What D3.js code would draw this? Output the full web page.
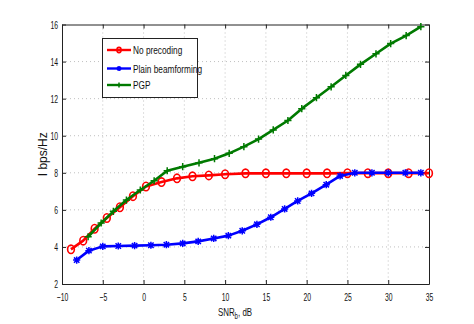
<!DOCTYPE html>
<html>
<head>
<meta charset="utf-8">
<script src="https://cdn.jsdelivr.net/npm/d3@7"></script>
<style>
  html, body { margin: 0; padding: 0; background: #fff; }
  svg { display: block; }
  text { font-family: "Liberation Sans", Arial, sans-serif; fill: #111; }
</style>
</head>
<body>
<svg id="chart" width="474" height="324"></svg>
<script>
// Spectral efficiency vs SNR_b for three precoding schemes
const noPrecX = [-8.9, -7.4, -6.0, -4.5, -2.9, -1.3, 0.3, 2.2, 4.1, 6.0, 8.0, 10.0, 12.5, 15.0, 17.5, 20.0, 22.5, 25.0, 27.5, 30.0, 32.5, 35.0];
const noPrecY = [3.87, 4.34, 4.98, 5.56, 6.14, 6.74, 7.26, 7.50, 7.70, 7.81, 7.86, 7.92, 7.97, 7.97, 7.97, 7.97, 7.97, 7.98, 7.98, 7.98, 7.98, 7.98];

const beamX = [-8.2, -6.7, -5.0, -3.1, -1.1, 0.9, 2.8, 4.8, 6.7, 8.6, 10.4, 12.1, 13.9, 15.6, 17.3, 18.9, 20.6, 22.4, 24.1, 25.9, 28.0, 30.0, 32.1, 34.0];
const beamY = [3.29, 3.80, 4.03, 4.05, 4.07, 4.09, 4.12, 4.19, 4.30, 4.46, 4.61, 4.87, 5.22, 5.60, 6.05, 6.48, 6.89, 7.36, 7.83, 8.00, 8.00, 8.00, 8.00, 8.00];

const pgpX = [-6.8, -5.2, -3.7, -2.1, -0.4, 1.3, 2.9, 4.8, 6.8, 8.7, 10.5, 12.3, 14.1, 15.9, 17.7, 19.4, 21.2, 23.0, 24.8, 26.6, 28.5, 30.3, 32.2, 34.0];
const pgpY = [4.55, 5.29, 5.92, 6.53, 7.07, 7.57, 8.11, 8.33, 8.54, 8.76, 9.05, 9.41, 9.82, 10.31, 10.82, 11.46, 12.05, 12.64, 13.25, 13.85, 14.42, 14.97, 15.40, 15.88];

const xTicks = [-10, -5, 0, 5, 10, 15, 20, 25, 30, 35];
const yTicks = [2, 4, 6, 8, 10, 12, 14, 16];

const seriesNames = ["No precoding", "Plain beamforming", "PGP"];
const seriesColors = ["#ff0000", "#0000ff", "#007a00"];
const seriesMarkers = ["circle", "asterisk", "plus"];

const series = [
  { name: seriesNames[0], color: seriesColors[0], marker: seriesMarkers[0], x: noPrecX, y: noPrecY },
  { name: seriesNames[1], color: seriesColors[1], marker: seriesMarkers[1], x: beamX, y: beamY },
  { name: seriesNames[2], color: seriesColors[2], marker: seriesMarkers[2], x: pgpX, y: pgpY }
];

const svg = d3.select("#chart");
const plotL = 62, plotR = 429, plotT = 24.5, plotB = 284;
const squeeze = 0.62; // horizontal compression for the condensed label face

const x = d3.scaleLinear().domain([-10, 35]).range([plotL, plotR]);
const y = d3.scaleLinear().domain([2, 16]).range([plotB, plotT]);

// dotted grid
const grid = svg.append("g");
grid.selectAll("line.gx").data(xTicks.slice(1, -1)).enter().append("line")
  .attr("x1", d => x(d)).attr("x2", d => x(d))
  .attr("y1", plotT).attr("y2", plotB)
  .attr("stroke", "#b0b0b0").attr("stroke-width", 0.8).attr("stroke-dasharray", "1,3");
grid.selectAll("line.gy").data(yTicks.slice(1, -1)).enter().append("line")
  .attr("x1", plotL).attr("x2", plotR)
  .attr("y1", d => y(d)).attr("y2", d => y(d))
  .attr("stroke", "#b0b0b0").attr("stroke-width", 0.8).attr("stroke-dasharray", "1,3");

// axes with inward ticks on all four sides
const axisStyle = g => {
  g.select(".domain").attr("stroke", "#222").attr("stroke-width", 1);
  g.selectAll(".tick line").attr("stroke", "#222");
  g.selectAll(".tick text").attr("font-size", 11).attr("fill", "#111");
};
svg.append("g").attr("transform", `translate(0,${plotB})`)
  .call(d3.axisBottom(x).tickValues(xTicks).tickSizeInner(-4).tickSizeOuter(0).tickPadding(9))
  .call(axisStyle)
  .call(g => g.selectAll(".tick text").attr("transform", `scale(${squeeze},1)`));
svg.append("g").attr("transform", `translate(0,${plotT})`)
  .call(d3.axisTop(x).tickValues(xTicks).tickSizeInner(-4).tickSizeOuter(0).tickFormat(""))
  .call(axisStyle);
svg.append("g").attr("transform", `translate(${plotL},0)`)
  .call(d3.axisLeft(y).tickValues(yTicks).tickSizeInner(-4).tickSizeOuter(0).tickPadding(4))
  .call(axisStyle)
  .call(g => g.selectAll(".tick text")
    .attr("x", -4 / squeeze)
    .attr("transform", `scale(${squeeze},1)`));
svg.append("g").attr("transform", `translate(${plotR},0)`)
  .call(d3.axisRight(y).tickValues(yTicks).tickSizeInner(-4).tickSizeOuter(0).tickFormat(""))
  .call(axisStyle);

// marker shapes
function drawMarker(g, type, cx, cy, color, s) {
  if (type === "circle") {
    g.append("ellipse").attr("cx", cx).attr("cy", cy).attr("rx", s * 0.8).attr("ry", s)
      .attr("fill", "none").attr("stroke", color).attr("stroke-width", 1.6);
  } else if (type === "asterisk") {
    const p = d3.path();
    p.moveTo(cx - s, cy); p.lineTo(cx + s, cy);
    p.moveTo(cx, cy - s); p.lineTo(cx, cy + s);
    const k = s * 0.75;
    p.moveTo(cx - k, cy - k); p.lineTo(cx + k, cy + k);
    p.moveTo(cx - k, cy + k); p.lineTo(cx + k, cy - k);
    g.append("path").attr("d", p.toString()).attr("stroke", color).attr("stroke-width", 1.5).attr("fill", "none");
  } else {
    const p = d3.path();
    p.moveTo(cx - s, cy); p.lineTo(cx + s, cy);
    p.moveTo(cx, cy - s); p.lineTo(cx, cy + s);
    g.append("path").attr("d", p.toString()).attr("stroke", color).attr("stroke-width", 1.5).attr("fill", "none");
  }
}

const line = d3.line().x(d => x(d[0])).y(d => y(d[1]));
const plot = svg.append("g");
series.forEach(s => {
  const pts = s.x.map((v, i) => [v, s.y[i]]);
  plot.append("path").datum(pts).attr("d", line)
    .attr("fill", "none").attr("stroke", s.color).attr("stroke-width", 2.6)
    .attr("stroke-linejoin", "round");
  const mg = plot.append("g");
  pts.forEach(p => drawMarker(mg, s.marker, x(p[0]), y(p[1]), s.color, s.marker === "circle" ? 4.2 : 3.6));
});

// legend
const lg = svg.append("g");
lg.append("rect").attr("x", 102.5).attr("y", 38.5).attr("width", 95).attr("height", 59)
  .attr("fill", "#fff").attr("stroke", "#222").attr("stroke-width", 1);
const legendY = [50, 68.5, 85];
series.forEach((s, i) => {
  lg.append("line").attr("x1", 107).attr("x2", 131).attr("y1", legendY[i]).attr("y2", legendY[i])
    .attr("stroke", s.color).attr("stroke-width", 2.4);
  drawMarker(lg, s.marker, 119, legendY[i], s.color, s.marker === "circle" ? 2.6 : 2.4);
  lg.append("g").attr("transform", `translate(133,${legendY[i] + 4}) scale(0.72,1)`)
    .append("text").attr("font-size", 11.5).text(s.name);
});

// axis titles
const xl = svg.append("g").attr("transform", "translate(235,315.5) scale(0.72,1)")
  .append("text").attr("text-anchor", "middle").attr("font-size", 11);
xl.append("tspan").text("SNR");
xl.append("tspan").attr("dy", 3).attr("font-size", 8.5).text("b");
xl.append("tspan").attr("dy", -3).text(", dB");

svg.append("text").attr("transform", `translate(47,${(plotT + plotB) / 2}) rotate(-90)`)
  .attr("text-anchor", "middle").attr("font-size", 12).text("I bps/Hz");
</script>
</body>
</html>
